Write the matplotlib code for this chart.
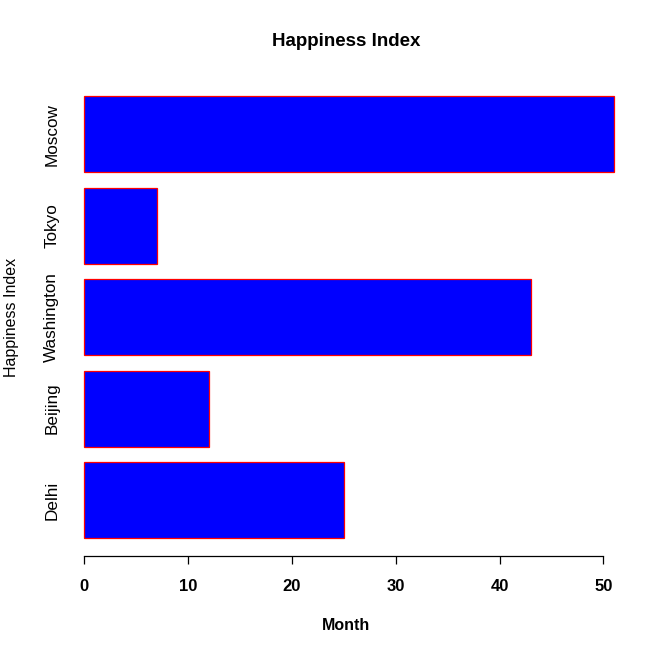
import matplotlib
matplotlib.use("Agg")
import matplotlib.pyplot as plt

cities = ["Delhi", "Beijing", "Washington", "Tokyo", "Moscow"]
values = [25, 12, 43, 7, 51]
x_ticks = [0, 10, 20, 30, 40, 50]

plt.rcParams['font.family'] = ['Liberation Sans', 'DejaVu Sans']

W = H = 654
fig = plt.figure(figsize=(6.54, 6.54), dpi=100)
left, right, top, bottom = 57.6, 635.2, 78.3, 556.0
ax = fig.add_axes([left / W, 1 - bottom / H, (right - left) / W, (bottom - top) / H])

bar_w, space = 1.0, 0.2
centers = [space * (i + 1) + bar_w * i + bar_w / 2 for i in range(len(values))]
ax.barh(centers, values, height=bar_w, color='#0000ff', edgecolor='#ff0000', linewidth=0.9)

# R-style axis extents (4% extension)
xmin, xmax = -0.01 * max(values), max(values)
xr = xmax - xmin
ax.set_xlim(xmin - 0.04 * xr, xmax + 0.04 * xr)
ymin, ymax = space, centers[-1] + bar_w / 2
yr = ymax - ymin
ax.set_ylim(ymin - 0.04 * yr, ymax + 0.04 * yr)

for s in ['top', 'right', 'left']:
    ax.spines[s].set_visible(False)
ax.spines['bottom'].set_bounds(x_ticks[0], x_ticks[-1])
ax.spines['bottom'].set_linewidth(0.9)

ax.set_xticks(x_ticks)
ax.set_xticklabels([str(t) for t in x_ticks], fontsize=12, fontweight='bold')
ax.tick_params(axis='x', length=5.76, width=0.9, pad=10.5, direction='out')

ax.set_yticks(centers)
ax.set_yticklabels(cities, fontsize=12.3, rotation=90, va='center', ha='center')
ax.tick_params(axis='y', length=0, pad=4.3)

ax.set_xlabel('Month', fontsize=11.5, fontweight='bold', va='baseline')
ax.xaxis.set_label_coords(0.5, -(630 - bottom) / (bottom - top))
ax.set_ylabel('Happiness Index', fontsize=11.5, va='center')
ax.yaxis.set_label_coords(-(left - 11.7) / (right - left), 0.5)

ax.set_title('Happiness Index', fontsize=13.5, fontweight='bold', va='baseline',
             y=(bottom - 46) / (bottom - top), pad=0)

fig.savefig('out.png', dpi=100, facecolor='white')
